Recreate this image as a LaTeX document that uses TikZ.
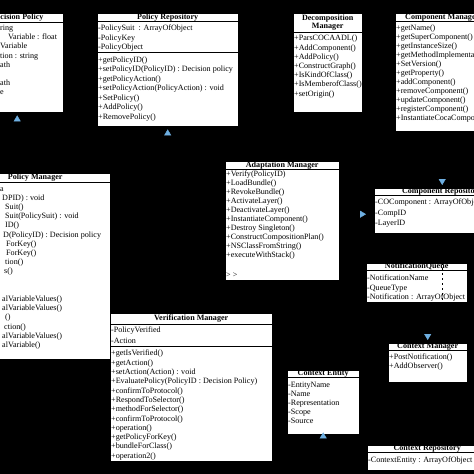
\documentclass[tikz,border=0pt]{standalone}
\usepackage{fontspec}
\setmainfont{Liberation Serif}
\usetikzlibrary{arrows.meta,positioning}
\definecolor{tipblue}{RGB}{110,175,225}
\tikzset{
	class/.style={draw=black, fill=white, thin, anchor=north west, inner sep=0pt},
	head/.style={draw=black, fill=white, thin, anchor=north west, inner sep=0pt, align=center,
		text height=5.2pt, text depth=1pt, font=\fontsize{8.1}{8.6}\selectfont\bfseries},
	members/.style={anchor=north west, inner sep=0pt, align=left, font=\fontsize{8.1}{9.2}\selectfont},
	gen/.style={black, thin, -{Triangle[width=7pt,length=6pt,color=tipblue]}, shorten >=3pt},
	dep/.style={gen, dash pattern=on 2pt off 3pt},
}
\begin{document}
\begin{tikzpicture}[x=1pt, y=-1pt]
	\useasboundingbox (0,0) rectangle (474,474);
	\fill[black] (0,0) rectangle (474,474);
	\clip (0,0) rectangle (474,474);

	% top row
	\node[class, minimum width=92pt, minimum height=99pt] (dpol) at (-29,13) {};
	\node[head, minimum width=92pt, minimum height=9pt] (dpol-h) at (dpol.north west) {Decision Policy};
	\node[members] (dpol-m) at (0,25) {ring\\\hspace*{8pt}Variable : float\\Variable\\tion : string\\ath\\[9.2pt]ath\\e};

	\node[class, minimum width=141pt, minimum height=113pt] (prepo) at (97,13) {};
	\node[head, minimum width=141pt, minimum height=8pt] (prepo-h) at (prepo.north west) {Policy Repository};
	\draw (97,52) -- (238,52);
	\node[members, font=\fontsize{8.1}{9.5}\selectfont] (prepo-a) at (98,25) {-PolicySuit\ \ : ArrayOfObject\\-PolicyKey\\-PolicyObject};
	\node[members, font=\fontsize{8.1}{9.5}\selectfont] (prepo-m) at (98,56.5) {+getPolicyID()\\+setPolicyID(PolicyID) : Decision policy\\+getPolicyAction()\\+setPolicyAction(PolicyAction) : void\\+SetPolicy()\\+AddPolicy()\\+RemovePolicy()};

	\node[class, minimum width=69pt, minimum height=99pt] (dman) at (293,13) {};
	\node[head, minimum width=69pt, minimum height=19pt, text height=, text depth=] (dman-h) at (dman.north west) {Decomposition\\Manager};
	\node[members] (dman-m) at (294,35) {+ParsCOCAADL()\\+AddComponent()\\+AddPolicy()\\+ConstructGraph()\\+IsKindOfClass()\\+IsMemberofClass()\\+setOrigin()};

	\node[class, minimum width=94pt, minimum height=118pt] (cman) at (395,13) {};
	\node[head, minimum width=94pt, minimum height=8pt] (cman-h) at (cman.north west) {Component Manager};
	\node[members, font=\fontsize{8.1}{9}\selectfont] (cman-m) at (396,25) {+getName()\\+getSuperComponent()\\+getInstanceSize()\\+getMethodImplementation()\\+SetVersion()\\+getProperty()\\+addComponent()\\+removeComponent()\\+updateComponent()\\+registerComponent()\\+InstantiateCocaComponent()};

	% middle row
	\node[class, minimum width=150pt, minimum height=186pt] (pman) at (-40,173) {};
	\node[head, minimum width=150pt, minimum height=9pt] (pman-h) at (pman.north west) {Policy Manager};
	\node[members] (pman-m) at (0,187) {a\\\hspace*{2pt}DPID) : void\\\hspace*{5pt}Suit()\\\hspace*{5pt}Suit(PolicySuit) : void\\\hspace*{5pt}ID()\\\hspace*{3pt}D(PolicyID) : Decision policy\\\hspace*{6pt}ForKey()\\\hspace*{6pt}ForKey()\\\hspace*{5pt}tion()\\\hspace*{4pt}s()\\[18.4pt]\hspace*{2pt}alVariableValues()\\\hspace*{2pt}alVariableValues()\\\hspace*{5pt}()\\\hspace*{4pt}ction()\\\hspace*{2pt}alVariableValues()\\\hspace*{2pt}alVariable()};

	\node[class, minimum width=114pt, minimum height=119pt] (aman) at (225,161) {};
	\node[head, minimum width=114pt, minimum height=8pt] (aman-h) at (aman.north west) {Adaptation Manager};
	\node[members, font=\fontsize{8.1}{9}\selectfont] (aman-m) at (226,171) {+Verify(PolicyID)\\+LoadBundle()\\+RevokeBundle()\\+ActivateLayer()\\+DeactivateLayer()\\+InstantiateComponent()\\+Destroy Singleton()\\+ConstructCompositionPlan()\\+NSClassFromString()\\+executeWithStack()};
	\node[members] (aman-s) at (226,273) {> >};

	\node[class, minimum width=136pt, minimum height=45pt] (crepo) at (374,188) {};
	\node[head, minimum width=136pt, minimum height=7pt] (crepo-h) at (crepo.north west) {Component Repository};
	\node[members, font=\fontsize{8.1}{10.5}\selectfont] (crepo-m) at (375,199) {-COComponent : ArrayOfObject\\-CompID\\-LayerID};

	\node[class, minimum width=101pt, minimum height=39pt] (nq) at (366,263) {};
	\node[head, minimum width=101pt, minimum height=7pt] (nq-h) at (nq.north west) {NotificationQueue};
	\node[members, font=\fontsize{8.1}{9.5}\selectfont] (nq-m) at (367,275) {-NotificationName\\-QueueType\\-Notification : ArrayOfObject};

	% bottom row
	\node[class, minimum width=162pt, minimum height=148pt] (vman) at (110,313) {};
	\node[head, minimum width=162pt, minimum height=11pt] (vman-h) at (vman.north west) {Verification Manager};
	\draw (110,346) -- (272,346);
	\node[members, font=\fontsize{8.1}{10.5}\selectfont] (vman-a) at (111,327) {-PolicyVerified\\-Action};
	\node[members, font=\fontsize{8.1}{9.3}\selectfont] (vman-m) at (111,350) {+getIsVerified()\\+getAction()\\+setAction(Action) : void\\+EvaluatePolicy(PolicyID : Decision Policy)\\+confirmToProtocol()\\+RespondToSelector()\\+methodForSelector()\\+confirmToProtocol()\\+operation()\\+getPolicyForKey()\\+bundleForClass()\\+operation2()};

	\node[class, minimum width=72pt, minimum height=64pt] (ctxent) at (287,370) {};
	\node[head, minimum width=72pt, minimum height=7pt] (ctxent-h) at (ctxent.north west) {Context Entity};
	\node[members, font=\fontsize{8.1}{9}\selectfont] (ctxent-m) at (288,382) {-EntityName\\-Name\\-Representation\\-Scope\\-Source};

	\node[class, minimum width=79pt, minimum height=39pt] (ctxman) at (388,343) {};
	\node[head, minimum width=79pt, minimum height=7pt] (ctxman-h) at (ctxman.north west) {Context Manager};
	\node[members, font=\fontsize{8.1}{9}\selectfont] (ctxman-m) at (389,354) {+PostNotification()\\+AddObserver()};

	\node[class, minimum width=120pt, minimum height=25pt] (ctxrepo) at (367,445) {};
	\node[head, minimum width=120pt, minimum height=7pt] (ctxrepo-h) at (ctxrepo.north west) {Context Repository};
	\node[members] (ctxrepo-m) at (368,457) {-ContextEntity : ArrayOfObject};

	% connectors
	\draw[gen] (dpol.south |- pman.north) -- (dpol.south);
	\draw[gen] (prepo.south |- vman.north) -- (prepo.south);
	\draw[gen] (cman.south) -- (crepo.north);
	\draw[gen, shorten >=8pt] ([yshift=6.5pt]aman.east) -- ([yshift=-3.5pt]crepo.west);
	\draw[dep] (crepo.south) -- ++(0,85) -| (ctxman.north);
	\draw[gen, shorten >=-2pt] (ctxrepo.west) -| (ctxent.south);
\end{tikzpicture}
\end{document}
